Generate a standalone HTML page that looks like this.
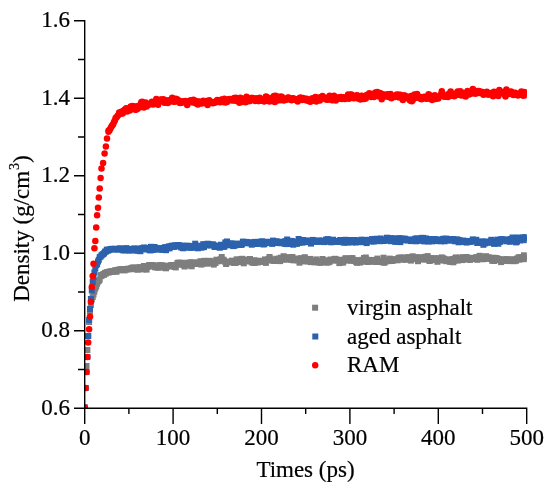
<!DOCTYPE html>
<html><head><meta charset="utf-8"><style>
html,body{margin:0;padding:0;background:#fff;width:550px;height:491px;overflow:hidden}
svg{display:block}
</style></head><body>
<svg width="550" height="491" viewBox="0 0 550 491">
<rect width="550" height="491" fill="#fff"/>
<defs><clipPath id="pa"><rect x="84.7" y="20.8" width="442.00000000000006" height="387.5"/></clipPath></defs>
<g clip-path="url(#pa)">
<g fill="#7e7e7e"><rect x="81.7" y="404.5" width="6.0" height="6.0"/><rect x="82.6" y="385.0" width="6.0" height="6.0"/><rect x="83.5" y="363.0" width="6.0" height="6.0"/><rect x="84.4" y="347.0" width="6.0" height="6.0"/><rect x="85.2" y="333.0" width="6.0" height="6.0"/><rect x="86.1" y="319.0" width="6.0" height="6.0"/><rect x="87.0" y="308.0" width="6.0" height="6.0"/><rect x="87.9" y="302.0" width="6.0" height="6.0"/><rect x="88.8" y="296.5" width="6.0" height="6.0"/><rect x="89.7" y="294.0" width="6.0" height="6.0"/><rect x="90.5" y="291.5" width="6.0" height="6.0"/><rect x="91.4" y="288.5" width="6.0" height="6.0"/><rect x="92.3" y="285.5" width="6.0" height="6.0"/><rect x="93.2" y="283.4" width="6.0" height="6.0"/><rect x="94.1" y="280.8" width="6.0" height="6.0"/><rect x="95.0" y="278.5" width="6.0" height="6.0"/><rect x="95.8" y="277.9" width="6.0" height="6.0"/><rect x="96.7" y="276.6" width="6.0" height="6.0"/><rect x="97.6" y="272.1" width="6.0" height="6.0"/><rect x="98.5" y="273.1" width="6.0" height="6.0"/><rect x="99.4" y="272.0" width="6.0" height="6.0"/><rect x="100.3" y="271.0" width="6.0" height="6.0"/><rect x="101.1" y="271.8" width="6.0" height="6.0"/><rect x="102.0" y="269.9" width="6.0" height="6.0"/><rect x="102.9" y="270.6" width="6.0" height="6.0"/><rect x="103.8" y="269.2" width="6.0" height="6.0"/><rect x="104.7" y="269.0" width="6.0" height="6.0"/><rect x="105.6" y="269.6" width="6.0" height="6.0"/><rect x="106.5" y="268.7" width="6.0" height="6.0"/><rect x="107.3" y="268.6" width="6.0" height="6.0"/><rect x="108.2" y="268.4" width="6.0" height="6.0"/><rect x="109.1" y="268.3" width="6.0" height="6.0"/><rect x="110.0" y="268.7" width="6.0" height="6.0"/><rect x="110.9" y="268.3" width="6.0" height="6.0"/><rect x="111.8" y="267.5" width="6.0" height="6.0"/><rect x="112.6" y="267.3" width="6.0" height="6.0"/><rect x="113.5" y="268.8" width="6.0" height="6.0"/><rect x="114.4" y="267.1" width="6.0" height="6.0"/><rect x="115.3" y="266.7" width="6.0" height="6.0"/><rect x="116.2" y="267.3" width="6.0" height="6.0"/><rect x="117.1" y="266.4" width="6.0" height="6.0"/><rect x="117.9" y="266.4" width="6.0" height="6.0"/><rect x="118.8" y="266.9" width="6.0" height="6.0"/><rect x="119.7" y="266.7" width="6.0" height="6.0"/><rect x="120.6" y="266.1" width="6.0" height="6.0"/><rect x="121.5" y="267.4" width="6.0" height="6.0"/><rect x="122.4" y="266.3" width="6.0" height="6.0"/><rect x="123.2" y="266.4" width="6.0" height="6.0"/><rect x="124.1" y="266.2" width="6.0" height="6.0"/><rect x="125.0" y="265.7" width="6.0" height="6.0"/><rect x="125.9" y="266.4" width="6.0" height="6.0"/><rect x="126.8" y="266.0" width="6.0" height="6.0"/><rect x="127.7" y="265.3" width="6.0" height="6.0"/><rect x="128.6" y="265.7" width="6.0" height="6.0"/><rect x="129.4" y="264.7" width="6.0" height="6.0"/><rect x="130.3" y="264.6" width="6.0" height="6.0"/><rect x="131.2" y="264.8" width="6.0" height="6.0"/><rect x="132.1" y="266.2" width="6.0" height="6.0"/><rect x="133.0" y="264.8" width="6.0" height="6.0"/><rect x="133.9" y="266.2" width="6.0" height="6.0"/><rect x="134.7" y="266.7" width="6.0" height="6.0"/><rect x="135.6" y="264.7" width="6.0" height="6.0"/><rect x="136.5" y="264.2" width="6.0" height="6.0"/><rect x="137.4" y="264.4" width="6.0" height="6.0"/><rect x="138.3" y="265.3" width="6.0" height="6.0"/><rect x="139.2" y="265.8" width="6.0" height="6.0"/><rect x="140.0" y="266.4" width="6.0" height="6.0"/><rect x="140.9" y="263.0" width="6.0" height="6.0"/><rect x="141.8" y="265.1" width="6.0" height="6.0"/><rect x="142.7" y="264.9" width="6.0" height="6.0"/><rect x="143.6" y="266.6" width="6.0" height="6.0"/><rect x="144.5" y="263.7" width="6.0" height="6.0"/><rect x="145.3" y="263.6" width="6.0" height="6.0"/><rect x="146.2" y="262.0" width="6.0" height="6.0"/><rect x="147.1" y="262.6" width="6.0" height="6.0"/><rect x="148.0" y="262.4" width="6.0" height="6.0"/><rect x="148.9" y="262.5" width="6.0" height="6.0"/><rect x="149.8" y="262.6" width="6.0" height="6.0"/><rect x="150.7" y="262.2" width="6.0" height="6.0"/><rect x="151.5" y="263.8" width="6.0" height="6.0"/><rect x="152.4" y="264.4" width="6.0" height="6.0"/><rect x="153.3" y="264.2" width="6.0" height="6.0"/><rect x="154.2" y="263.6" width="6.0" height="6.0"/><rect x="155.1" y="264.6" width="6.0" height="6.0"/><rect x="156.0" y="264.5" width="6.0" height="6.0"/><rect x="156.8" y="262.1" width="6.0" height="6.0"/><rect x="157.7" y="263.9" width="6.0" height="6.0"/><rect x="158.6" y="262.5" width="6.0" height="6.0"/><rect x="159.5" y="262.3" width="6.0" height="6.0"/><rect x="160.4" y="263.7" width="6.0" height="6.0"/><rect x="161.3" y="263.2" width="6.0" height="6.0"/><rect x="162.1" y="265.0" width="6.0" height="6.0"/><rect x="163.0" y="265.3" width="6.0" height="6.0"/><rect x="163.9" y="263.7" width="6.0" height="6.0"/><rect x="164.8" y="263.4" width="6.0" height="6.0"/><rect x="165.7" y="262.8" width="6.0" height="6.0"/><rect x="166.6" y="262.7" width="6.0" height="6.0"/><rect x="167.4" y="263.2" width="6.0" height="6.0"/><rect x="168.3" y="262.0" width="6.0" height="6.0"/><rect x="169.2" y="262.9" width="6.0" height="6.0"/><rect x="170.1" y="262.1" width="6.0" height="6.0"/><rect x="171.0" y="263.6" width="6.0" height="6.0"/><rect x="171.9" y="263.8" width="6.0" height="6.0"/><rect x="172.8" y="264.4" width="6.0" height="6.0"/><rect x="173.6" y="261.7" width="6.0" height="6.0"/><rect x="174.5" y="260.0" width="6.0" height="6.0"/><rect x="175.4" y="259.6" width="6.0" height="6.0"/><rect x="176.3" y="261.5" width="6.0" height="6.0"/><rect x="177.2" y="260.1" width="6.0" height="6.0"/><rect x="178.1" y="259.7" width="6.0" height="6.0"/><rect x="178.9" y="261.3" width="6.0" height="6.0"/><rect x="179.8" y="260.4" width="6.0" height="6.0"/><rect x="180.7" y="262.2" width="6.0" height="6.0"/><rect x="181.6" y="263.5" width="6.0" height="6.0"/><rect x="182.5" y="261.2" width="6.0" height="6.0"/><rect x="183.4" y="262.5" width="6.0" height="6.0"/><rect x="184.2" y="259.7" width="6.0" height="6.0"/><rect x="185.1" y="261.7" width="6.0" height="6.0"/><rect x="186.0" y="260.5" width="6.0" height="6.0"/><rect x="186.9" y="259.9" width="6.0" height="6.0"/><rect x="187.8" y="259.3" width="6.0" height="6.0"/><rect x="188.7" y="263.3" width="6.0" height="6.0"/><rect x="189.5" y="259.6" width="6.0" height="6.0"/><rect x="190.4" y="259.7" width="6.0" height="6.0"/><rect x="191.3" y="260.7" width="6.0" height="6.0"/><rect x="192.2" y="261.0" width="6.0" height="6.0"/><rect x="193.1" y="260.8" width="6.0" height="6.0"/><rect x="194.0" y="260.3" width="6.0" height="6.0"/><rect x="194.9" y="259.3" width="6.0" height="6.0"/><rect x="195.7" y="260.7" width="6.0" height="6.0"/><rect x="196.6" y="259.9" width="6.0" height="6.0"/><rect x="197.5" y="258.2" width="6.0" height="6.0"/><rect x="198.4" y="261.6" width="6.0" height="6.0"/><rect x="199.3" y="259.5" width="6.0" height="6.0"/><rect x="200.2" y="260.6" width="6.0" height="6.0"/><rect x="201.0" y="257.9" width="6.0" height="6.0"/><rect x="201.9" y="257.9" width="6.0" height="6.0"/><rect x="202.8" y="258.9" width="6.0" height="6.0"/><rect x="203.7" y="258.8" width="6.0" height="6.0"/><rect x="204.6" y="260.7" width="6.0" height="6.0"/><rect x="205.5" y="257.9" width="6.0" height="6.0"/><rect x="206.3" y="259.7" width="6.0" height="6.0"/><rect x="207.2" y="257.9" width="6.0" height="6.0"/><rect x="208.1" y="259.9" width="6.0" height="6.0"/><rect x="209.0" y="259.4" width="6.0" height="6.0"/><rect x="209.9" y="258.6" width="6.0" height="6.0"/><rect x="210.8" y="261.6" width="6.0" height="6.0"/><rect x="211.6" y="259.1" width="6.0" height="6.0"/><rect x="212.5" y="260.0" width="6.0" height="6.0"/><rect x="213.4" y="256.7" width="6.0" height="6.0"/><rect x="214.3" y="257.7" width="6.0" height="6.0"/><rect x="215.2" y="258.3" width="6.0" height="6.0"/><rect x="216.1" y="257.8" width="6.0" height="6.0"/><rect x="217.0" y="256.9" width="6.0" height="6.0"/><rect x="217.8" y="256.2" width="6.0" height="6.0"/><rect x="218.7" y="254.0" width="6.0" height="6.0"/><rect x="219.6" y="257.2" width="6.0" height="6.0"/><rect x="220.5" y="256.7" width="6.0" height="6.0"/><rect x="221.4" y="257.8" width="6.0" height="6.0"/><rect x="222.3" y="259.1" width="6.0" height="6.0"/><rect x="223.1" y="261.0" width="6.0" height="6.0"/><rect x="224.0" y="259.2" width="6.0" height="6.0"/><rect x="224.9" y="259.4" width="6.0" height="6.0"/><rect x="225.8" y="259.0" width="6.0" height="6.0"/><rect x="226.7" y="259.0" width="6.0" height="6.0"/><rect x="227.6" y="258.9" width="6.0" height="6.0"/><rect x="228.4" y="257.9" width="6.0" height="6.0"/><rect x="229.3" y="257.7" width="6.0" height="6.0"/><rect x="230.2" y="258.5" width="6.0" height="6.0"/><rect x="231.1" y="260.0" width="6.0" height="6.0"/><rect x="232.0" y="258.9" width="6.0" height="6.0"/><rect x="232.9" y="259.8" width="6.0" height="6.0"/><rect x="233.7" y="256.3" width="6.0" height="6.0"/><rect x="234.6" y="258.4" width="6.0" height="6.0"/><rect x="235.5" y="258.7" width="6.0" height="6.0"/><rect x="236.4" y="259.1" width="6.0" height="6.0"/><rect x="237.3" y="256.9" width="6.0" height="6.0"/><rect x="238.2" y="256.1" width="6.0" height="6.0"/><rect x="239.1" y="255.8" width="6.0" height="6.0"/><rect x="239.9" y="257.7" width="6.0" height="6.0"/><rect x="240.8" y="260.3" width="6.0" height="6.0"/><rect x="241.7" y="257.7" width="6.0" height="6.0"/><rect x="242.6" y="256.6" width="6.0" height="6.0"/><rect x="243.5" y="258.4" width="6.0" height="6.0"/><rect x="244.4" y="256.9" width="6.0" height="6.0"/><rect x="245.2" y="257.6" width="6.0" height="6.0"/><rect x="246.1" y="257.1" width="6.0" height="6.0"/><rect x="247.0" y="256.0" width="6.0" height="6.0"/><rect x="247.9" y="257.7" width="6.0" height="6.0"/><rect x="248.8" y="259.4" width="6.0" height="6.0"/><rect x="249.7" y="259.0" width="6.0" height="6.0"/><rect x="250.5" y="259.9" width="6.0" height="6.0"/><rect x="251.4" y="257.2" width="6.0" height="6.0"/><rect x="252.3" y="259.7" width="6.0" height="6.0"/><rect x="253.2" y="258.5" width="6.0" height="6.0"/><rect x="254.1" y="258.2" width="6.0" height="6.0"/><rect x="255.0" y="259.4" width="6.0" height="6.0"/><rect x="255.8" y="257.7" width="6.0" height="6.0"/><rect x="256.7" y="258.1" width="6.0" height="6.0"/><rect x="257.6" y="258.1" width="6.0" height="6.0"/><rect x="258.5" y="258.2" width="6.0" height="6.0"/><rect x="259.4" y="258.3" width="6.0" height="6.0"/><rect x="260.3" y="258.9" width="6.0" height="6.0"/><rect x="261.2" y="258.0" width="6.0" height="6.0"/><rect x="262.0" y="256.4" width="6.0" height="6.0"/><rect x="262.9" y="259.9" width="6.0" height="6.0"/><rect x="263.8" y="257.2" width="6.0" height="6.0"/><rect x="264.7" y="257.2" width="6.0" height="6.0"/><rect x="265.6" y="255.9" width="6.0" height="6.0"/><rect x="266.5" y="254.0" width="6.0" height="6.0"/><rect x="267.3" y="255.5" width="6.0" height="6.0"/><rect x="268.2" y="256.8" width="6.0" height="6.0"/><rect x="269.1" y="257.4" width="6.0" height="6.0"/><rect x="270.0" y="257.3" width="6.0" height="6.0"/><rect x="270.9" y="258.0" width="6.0" height="6.0"/><rect x="271.8" y="257.7" width="6.0" height="6.0"/><rect x="272.6" y="257.7" width="6.0" height="6.0"/><rect x="273.5" y="255.8" width="6.0" height="6.0"/><rect x="274.4" y="256.5" width="6.0" height="6.0"/><rect x="275.3" y="256.2" width="6.0" height="6.0"/><rect x="276.2" y="255.5" width="6.0" height="6.0"/><rect x="277.1" y="258.1" width="6.0" height="6.0"/><rect x="277.9" y="254.7" width="6.0" height="6.0"/><rect x="278.8" y="256.0" width="6.0" height="6.0"/><rect x="279.7" y="256.1" width="6.0" height="6.0"/><rect x="280.6" y="253.2" width="6.0" height="6.0"/><rect x="281.5" y="256.7" width="6.0" height="6.0"/><rect x="282.4" y="255.1" width="6.0" height="6.0"/><rect x="283.3" y="256.3" width="6.0" height="6.0"/><rect x="284.1" y="255.3" width="6.0" height="6.0"/><rect x="285.0" y="254.1" width="6.0" height="6.0"/><rect x="285.9" y="255.9" width="6.0" height="6.0"/><rect x="286.8" y="255.5" width="6.0" height="6.0"/><rect x="287.7" y="256.8" width="6.0" height="6.0"/><rect x="288.6" y="256.4" width="6.0" height="6.0"/><rect x="289.4" y="254.0" width="6.0" height="6.0"/><rect x="290.3" y="257.3" width="6.0" height="6.0"/><rect x="291.2" y="256.9" width="6.0" height="6.0"/><rect x="292.1" y="257.1" width="6.0" height="6.0"/><rect x="293.0" y="256.8" width="6.0" height="6.0"/><rect x="293.9" y="255.5" width="6.0" height="6.0"/><rect x="294.7" y="257.4" width="6.0" height="6.0"/><rect x="295.6" y="256.0" width="6.0" height="6.0"/><rect x="296.5" y="259.7" width="6.0" height="6.0"/><rect x="297.4" y="256.1" width="6.0" height="6.0"/><rect x="298.3" y="255.1" width="6.0" height="6.0"/><rect x="299.2" y="255.9" width="6.0" height="6.0"/><rect x="300.0" y="258.1" width="6.0" height="6.0"/><rect x="300.9" y="256.1" width="6.0" height="6.0"/><rect x="301.8" y="254.2" width="6.0" height="6.0"/><rect x="302.7" y="258.4" width="6.0" height="6.0"/><rect x="303.6" y="257.5" width="6.0" height="6.0"/><rect x="304.5" y="257.0" width="6.0" height="6.0"/><rect x="305.4" y="258.4" width="6.0" height="6.0"/><rect x="306.2" y="256.3" width="6.0" height="6.0"/><rect x="307.1" y="255.9" width="6.0" height="6.0"/><rect x="308.0" y="259.1" width="6.0" height="6.0"/><rect x="308.9" y="257.8" width="6.0" height="6.0"/><rect x="309.8" y="259.0" width="6.0" height="6.0"/><rect x="310.7" y="258.0" width="6.0" height="6.0"/><rect x="311.5" y="259.3" width="6.0" height="6.0"/><rect x="312.4" y="258.5" width="6.0" height="6.0"/><rect x="313.3" y="256.4" width="6.0" height="6.0"/><rect x="314.2" y="259.2" width="6.0" height="6.0"/><rect x="315.1" y="257.9" width="6.0" height="6.0"/><rect x="316.0" y="259.4" width="6.0" height="6.0"/><rect x="316.8" y="258.7" width="6.0" height="6.0"/><rect x="317.7" y="259.9" width="6.0" height="6.0"/><rect x="318.6" y="258.2" width="6.0" height="6.0"/><rect x="319.5" y="256.0" width="6.0" height="6.0"/><rect x="320.4" y="257.8" width="6.0" height="6.0"/><rect x="321.3" y="259.0" width="6.0" height="6.0"/><rect x="322.1" y="258.1" width="6.0" height="6.0"/><rect x="323.0" y="257.4" width="6.0" height="6.0"/><rect x="323.9" y="259.7" width="6.0" height="6.0"/><rect x="324.8" y="257.8" width="6.0" height="6.0"/><rect x="325.7" y="259.3" width="6.0" height="6.0"/><rect x="326.6" y="258.7" width="6.0" height="6.0"/><rect x="327.5" y="256.5" width="6.0" height="6.0"/><rect x="328.3" y="257.0" width="6.0" height="6.0"/><rect x="329.2" y="257.2" width="6.0" height="6.0"/><rect x="330.1" y="257.6" width="6.0" height="6.0"/><rect x="331.0" y="256.4" width="6.0" height="6.0"/><rect x="331.9" y="255.8" width="6.0" height="6.0"/><rect x="332.8" y="256.3" width="6.0" height="6.0"/><rect x="333.6" y="257.1" width="6.0" height="6.0"/><rect x="334.5" y="256.9" width="6.0" height="6.0"/><rect x="335.4" y="257.5" width="6.0" height="6.0"/><rect x="336.3" y="260.1" width="6.0" height="6.0"/><rect x="337.2" y="258.4" width="6.0" height="6.0"/><rect x="338.1" y="256.8" width="6.0" height="6.0"/><rect x="338.9" y="257.8" width="6.0" height="6.0"/><rect x="339.8" y="259.7" width="6.0" height="6.0"/><rect x="340.7" y="258.4" width="6.0" height="6.0"/><rect x="341.6" y="256.6" width="6.0" height="6.0"/><rect x="342.5" y="255.2" width="6.0" height="6.0"/><rect x="343.4" y="255.8" width="6.0" height="6.0"/><rect x="344.2" y="257.2" width="6.0" height="6.0"/><rect x="345.1" y="257.3" width="6.0" height="6.0"/><rect x="346.0" y="255.6" width="6.0" height="6.0"/><rect x="346.9" y="256.3" width="6.0" height="6.0"/><rect x="347.8" y="257.8" width="6.0" height="6.0"/><rect x="348.7" y="255.1" width="6.0" height="6.0"/><rect x="349.6" y="255.3" width="6.0" height="6.0"/><rect x="350.4" y="257.2" width="6.0" height="6.0"/><rect x="351.3" y="257.7" width="6.0" height="6.0"/><rect x="352.2" y="257.6" width="6.0" height="6.0"/><rect x="353.1" y="258.9" width="6.0" height="6.0"/><rect x="354.0" y="259.8" width="6.0" height="6.0"/><rect x="354.9" y="258.7" width="6.0" height="6.0"/><rect x="355.7" y="257.1" width="6.0" height="6.0"/><rect x="356.6" y="259.5" width="6.0" height="6.0"/><rect x="357.5" y="259.2" width="6.0" height="6.0"/><rect x="358.4" y="258.6" width="6.0" height="6.0"/><rect x="359.3" y="256.8" width="6.0" height="6.0"/><rect x="360.2" y="258.3" width="6.0" height="6.0"/><rect x="361.0" y="255.0" width="6.0" height="6.0"/><rect x="361.9" y="256.5" width="6.0" height="6.0"/><rect x="362.8" y="254.5" width="6.0" height="6.0"/><rect x="363.7" y="256.7" width="6.0" height="6.0"/><rect x="364.6" y="259.0" width="6.0" height="6.0"/><rect x="365.5" y="257.2" width="6.0" height="6.0"/><rect x="366.3" y="258.8" width="6.0" height="6.0"/><rect x="367.2" y="256.9" width="6.0" height="6.0"/><rect x="368.1" y="257.2" width="6.0" height="6.0"/><rect x="369.0" y="257.1" width="6.0" height="6.0"/><rect x="369.9" y="257.9" width="6.0" height="6.0"/><rect x="370.8" y="257.5" width="6.0" height="6.0"/><rect x="371.7" y="258.6" width="6.0" height="6.0"/><rect x="372.5" y="259.0" width="6.0" height="6.0"/><rect x="373.4" y="257.3" width="6.0" height="6.0"/><rect x="374.3" y="255.6" width="6.0" height="6.0"/><rect x="375.2" y="257.6" width="6.0" height="6.0"/><rect x="376.1" y="258.8" width="6.0" height="6.0"/><rect x="377.0" y="259.0" width="6.0" height="6.0"/><rect x="377.8" y="258.0" width="6.0" height="6.0"/><rect x="378.7" y="258.7" width="6.0" height="6.0"/><rect x="379.6" y="259.3" width="6.0" height="6.0"/><rect x="380.5" y="254.7" width="6.0" height="6.0"/><rect x="381.4" y="259.8" width="6.0" height="6.0"/><rect x="382.3" y="258.5" width="6.0" height="6.0"/><rect x="383.1" y="258.2" width="6.0" height="6.0"/><rect x="384.0" y="256.7" width="6.0" height="6.0"/><rect x="384.9" y="257.7" width="6.0" height="6.0"/><rect x="385.8" y="258.1" width="6.0" height="6.0"/><rect x="386.7" y="255.6" width="6.0" height="6.0"/><rect x="387.6" y="257.9" width="6.0" height="6.0"/><rect x="388.4" y="256.5" width="6.0" height="6.0"/><rect x="389.3" y="257.9" width="6.0" height="6.0"/><rect x="390.2" y="257.3" width="6.0" height="6.0"/><rect x="391.1" y="256.3" width="6.0" height="6.0"/><rect x="392.0" y="256.7" width="6.0" height="6.0"/><rect x="392.9" y="257.0" width="6.0" height="6.0"/><rect x="393.8" y="256.6" width="6.0" height="6.0"/><rect x="394.6" y="257.3" width="6.0" height="6.0"/><rect x="395.5" y="255.1" width="6.0" height="6.0"/><rect x="396.4" y="254.6" width="6.0" height="6.0"/><rect x="397.3" y="256.0" width="6.0" height="6.0"/><rect x="398.2" y="254.6" width="6.0" height="6.0"/><rect x="399.1" y="255.5" width="6.0" height="6.0"/><rect x="399.9" y="256.7" width="6.0" height="6.0"/><rect x="400.8" y="254.6" width="6.0" height="6.0"/><rect x="401.7" y="254.8" width="6.0" height="6.0"/><rect x="402.6" y="256.8" width="6.0" height="6.0"/><rect x="403.5" y="255.2" width="6.0" height="6.0"/><rect x="404.4" y="255.7" width="6.0" height="6.0"/><rect x="405.2" y="254.2" width="6.0" height="6.0"/><rect x="406.1" y="254.2" width="6.0" height="6.0"/><rect x="407.0" y="255.5" width="6.0" height="6.0"/><rect x="407.9" y="257.6" width="6.0" height="6.0"/><rect x="408.8" y="255.9" width="6.0" height="6.0"/><rect x="409.7" y="253.3" width="6.0" height="6.0"/><rect x="410.5" y="256.0" width="6.0" height="6.0"/><rect x="411.4" y="256.0" width="6.0" height="6.0"/><rect x="412.3" y="256.1" width="6.0" height="6.0"/><rect x="413.2" y="254.2" width="6.0" height="6.0"/><rect x="414.1" y="255.9" width="6.0" height="6.0"/><rect x="415.0" y="258.2" width="6.0" height="6.0"/><rect x="415.9" y="254.4" width="6.0" height="6.0"/><rect x="416.7" y="256.0" width="6.0" height="6.0"/><rect x="417.6" y="254.8" width="6.0" height="6.0"/><rect x="418.5" y="254.5" width="6.0" height="6.0"/><rect x="419.4" y="255.2" width="6.0" height="6.0"/><rect x="420.3" y="256.6" width="6.0" height="6.0"/><rect x="421.2" y="256.2" width="6.0" height="6.0"/><rect x="422.0" y="253.8" width="6.0" height="6.0"/><rect x="422.9" y="254.4" width="6.0" height="6.0"/><rect x="423.8" y="254.4" width="6.0" height="6.0"/><rect x="424.7" y="253.1" width="6.0" height="6.0"/><rect x="425.6" y="256.6" width="6.0" height="6.0"/><rect x="426.5" y="258.0" width="6.0" height="6.0"/><rect x="427.3" y="257.6" width="6.0" height="6.0"/><rect x="428.2" y="255.0" width="6.0" height="6.0"/><rect x="429.1" y="257.0" width="6.0" height="6.0"/><rect x="430.0" y="256.9" width="6.0" height="6.0"/><rect x="430.9" y="255.2" width="6.0" height="6.0"/><rect x="431.8" y="255.9" width="6.0" height="6.0"/><rect x="432.6" y="255.8" width="6.0" height="6.0"/><rect x="433.5" y="256.9" width="6.0" height="6.0"/><rect x="434.4" y="258.8" width="6.0" height="6.0"/><rect x="435.3" y="255.5" width="6.0" height="6.0"/><rect x="436.2" y="255.3" width="6.0" height="6.0"/><rect x="437.1" y="257.5" width="6.0" height="6.0"/><rect x="438.0" y="256.7" width="6.0" height="6.0"/><rect x="438.8" y="254.4" width="6.0" height="6.0"/><rect x="439.7" y="255.8" width="6.0" height="6.0"/><rect x="440.6" y="255.4" width="6.0" height="6.0"/><rect x="441.5" y="256.1" width="6.0" height="6.0"/><rect x="442.4" y="257.5" width="6.0" height="6.0"/><rect x="443.3" y="258.2" width="6.0" height="6.0"/><rect x="444.1" y="256.9" width="6.0" height="6.0"/><rect x="445.0" y="257.2" width="6.0" height="6.0"/><rect x="445.9" y="256.4" width="6.0" height="6.0"/><rect x="446.8" y="258.7" width="6.0" height="6.0"/><rect x="447.7" y="258.8" width="6.0" height="6.0"/><rect x="448.6" y="257.2" width="6.0" height="6.0"/><rect x="449.4" y="256.1" width="6.0" height="6.0"/><rect x="450.3" y="259.3" width="6.0" height="6.0"/><rect x="451.2" y="257.9" width="6.0" height="6.0"/><rect x="452.1" y="255.3" width="6.0" height="6.0"/><rect x="453.0" y="254.4" width="6.0" height="6.0"/><rect x="453.9" y="255.7" width="6.0" height="6.0"/><rect x="454.7" y="257.6" width="6.0" height="6.0"/><rect x="455.6" y="255.3" width="6.0" height="6.0"/><rect x="456.5" y="255.1" width="6.0" height="6.0"/><rect x="457.4" y="254.6" width="6.0" height="6.0"/><rect x="458.3" y="256.1" width="6.0" height="6.0"/><rect x="459.2" y="257.1" width="6.0" height="6.0"/><rect x="460.1" y="254.2" width="6.0" height="6.0"/><rect x="460.9" y="255.0" width="6.0" height="6.0"/><rect x="461.8" y="255.4" width="6.0" height="6.0"/><rect x="462.7" y="254.7" width="6.0" height="6.0"/><rect x="463.6" y="254.0" width="6.0" height="6.0"/><rect x="464.5" y="256.6" width="6.0" height="6.0"/><rect x="465.4" y="255.7" width="6.0" height="6.0"/><rect x="466.2" y="255.7" width="6.0" height="6.0"/><rect x="467.1" y="256.9" width="6.0" height="6.0"/><rect x="468.0" y="254.8" width="6.0" height="6.0"/><rect x="468.9" y="255.7" width="6.0" height="6.0"/><rect x="469.8" y="255.0" width="6.0" height="6.0"/><rect x="470.7" y="255.1" width="6.0" height="6.0"/><rect x="471.5" y="255.7" width="6.0" height="6.0"/><rect x="472.4" y="255.1" width="6.0" height="6.0"/><rect x="473.3" y="254.1" width="6.0" height="6.0"/><rect x="474.2" y="256.8" width="6.0" height="6.0"/><rect x="475.1" y="255.2" width="6.0" height="6.0"/><rect x="476.0" y="253.8" width="6.0" height="6.0"/><rect x="476.8" y="252.8" width="6.0" height="6.0"/><rect x="477.7" y="255.0" width="6.0" height="6.0"/><rect x="478.6" y="255.5" width="6.0" height="6.0"/><rect x="479.5" y="256.2" width="6.0" height="6.0"/><rect x="480.4" y="256.1" width="6.0" height="6.0"/><rect x="481.3" y="254.4" width="6.0" height="6.0"/><rect x="482.2" y="255.5" width="6.0" height="6.0"/><rect x="483.0" y="253.2" width="6.0" height="6.0"/><rect x="483.9" y="254.8" width="6.0" height="6.0"/><rect x="484.8" y="255.8" width="6.0" height="6.0"/><rect x="485.7" y="254.2" width="6.0" height="6.0"/><rect x="486.6" y="255.0" width="6.0" height="6.0"/><rect x="487.5" y="255.7" width="6.0" height="6.0"/><rect x="488.3" y="256.0" width="6.0" height="6.0"/><rect x="489.2" y="257.8" width="6.0" height="6.0"/><rect x="490.1" y="254.8" width="6.0" height="6.0"/><rect x="491.0" y="258.0" width="6.0" height="6.0"/><rect x="491.9" y="254.9" width="6.0" height="6.0"/><rect x="492.8" y="255.6" width="6.0" height="6.0"/><rect x="493.6" y="255.1" width="6.0" height="6.0"/><rect x="494.5" y="255.9" width="6.0" height="6.0"/><rect x="495.4" y="255.9" width="6.0" height="6.0"/><rect x="496.3" y="257.2" width="6.0" height="6.0"/><rect x="497.2" y="256.3" width="6.0" height="6.0"/><rect x="498.1" y="259.1" width="6.0" height="6.0"/><rect x="498.9" y="257.2" width="6.0" height="6.0"/><rect x="499.8" y="256.4" width="6.0" height="6.0"/><rect x="500.7" y="257.5" width="6.0" height="6.0"/><rect x="501.6" y="257.9" width="6.0" height="6.0"/><rect x="502.5" y="257.1" width="6.0" height="6.0"/><rect x="503.4" y="256.2" width="6.0" height="6.0"/><rect x="504.3" y="256.3" width="6.0" height="6.0"/><rect x="505.1" y="257.6" width="6.0" height="6.0"/><rect x="506.0" y="258.1" width="6.0" height="6.0"/><rect x="506.9" y="257.5" width="6.0" height="6.0"/><rect x="507.8" y="257.1" width="6.0" height="6.0"/><rect x="508.7" y="257.8" width="6.0" height="6.0"/><rect x="509.6" y="256.2" width="6.0" height="6.0"/><rect x="510.4" y="256.9" width="6.0" height="6.0"/><rect x="511.3" y="258.2" width="6.0" height="6.0"/><rect x="512.2" y="257.3" width="6.0" height="6.0"/><rect x="513.1" y="257.7" width="6.0" height="6.0"/><rect x="514.0" y="255.6" width="6.0" height="6.0"/><rect x="514.9" y="255.8" width="6.0" height="6.0"/><rect x="515.7" y="254.2" width="6.0" height="6.0"/><rect x="516.6" y="256.7" width="6.0" height="6.0"/><rect x="517.5" y="254.7" width="6.0" height="6.0"/><rect x="518.4" y="254.3" width="6.0" height="6.0"/><rect x="519.3" y="254.9" width="6.0" height="6.0"/><rect x="520.2" y="255.9" width="6.0" height="6.0"/><rect x="521.0" y="252.3" width="6.0" height="6.0"/><rect x="521.9" y="253.4" width="6.0" height="6.0"/><rect x="522.8" y="256.2" width="6.0" height="6.0"/><rect x="523.7" y="255.5" width="6.0" height="6.0"/></g>
<g fill="#2c62ad"><rect x="81.7" y="404.5" width="6.0" height="6.0"/><rect x="82.6" y="385.0" width="6.0" height="6.0"/><rect x="83.5" y="369.0" width="6.0" height="6.0"/><rect x="84.4" y="354.0" width="6.0" height="6.0"/><rect x="85.2" y="333.0" width="6.0" height="6.0"/><rect x="86.1" y="317.0" width="6.0" height="6.0"/><rect x="87.0" y="306.0" width="6.0" height="6.0"/><rect x="87.9" y="296.0" width="6.0" height="6.0"/><rect x="88.8" y="287.5" width="6.0" height="6.0"/><rect x="89.7" y="279.0" width="6.0" height="6.0"/><rect x="90.5" y="274.0" width="6.0" height="6.0"/><rect x="91.4" y="269.5" width="6.0" height="6.0"/><rect x="92.3" y="265.5" width="6.0" height="6.0"/><rect x="93.2" y="262.1" width="6.0" height="6.0"/><rect x="94.1" y="261.2" width="6.0" height="6.0"/><rect x="95.0" y="258.5" width="6.0" height="6.0"/><rect x="95.8" y="256.8" width="6.0" height="6.0"/><rect x="96.7" y="254.1" width="6.0" height="6.0"/><rect x="97.6" y="253.6" width="6.0" height="6.0"/><rect x="98.5" y="252.3" width="6.0" height="6.0"/><rect x="99.4" y="251.6" width="6.0" height="6.0"/><rect x="100.3" y="251.0" width="6.0" height="6.0"/><rect x="101.1" y="250.2" width="6.0" height="6.0"/><rect x="102.0" y="248.7" width="6.0" height="6.0"/><rect x="102.9" y="248.6" width="6.0" height="6.0"/><rect x="103.8" y="246.6" width="6.0" height="6.0"/><rect x="104.7" y="247.7" width="6.0" height="6.0"/><rect x="105.6" y="247.2" width="6.0" height="6.0"/><rect x="106.5" y="246.6" width="6.0" height="6.0"/><rect x="107.3" y="246.3" width="6.0" height="6.0"/><rect x="108.2" y="246.3" width="6.0" height="6.0"/><rect x="109.1" y="245.8" width="6.0" height="6.0"/><rect x="110.0" y="246.1" width="6.0" height="6.0"/><rect x="110.9" y="246.2" width="6.0" height="6.0"/><rect x="111.8" y="245.8" width="6.0" height="6.0"/><rect x="112.6" y="246.1" width="6.0" height="6.0"/><rect x="113.5" y="246.4" width="6.0" height="6.0"/><rect x="114.4" y="246.4" width="6.0" height="6.0"/><rect x="115.3" y="246.3" width="6.0" height="6.0"/><rect x="116.2" y="245.6" width="6.0" height="6.0"/><rect x="117.1" y="245.6" width="6.0" height="6.0"/><rect x="117.9" y="245.6" width="6.0" height="6.0"/><rect x="118.8" y="246.1" width="6.0" height="6.0"/><rect x="119.7" y="247.3" width="6.0" height="6.0"/><rect x="120.6" y="246.9" width="6.0" height="6.0"/><rect x="121.5" y="247.3" width="6.0" height="6.0"/><rect x="122.4" y="247.2" width="6.0" height="6.0"/><rect x="123.2" y="245.1" width="6.0" height="6.0"/><rect x="124.1" y="246.5" width="6.0" height="6.0"/><rect x="125.0" y="246.1" width="6.0" height="6.0"/><rect x="125.9" y="247.3" width="6.0" height="6.0"/><rect x="126.8" y="247.5" width="6.0" height="6.0"/><rect x="127.7" y="245.8" width="6.0" height="6.0"/><rect x="128.6" y="246.5" width="6.0" height="6.0"/><rect x="129.4" y="247.2" width="6.0" height="6.0"/><rect x="130.3" y="246.2" width="6.0" height="6.0"/><rect x="131.2" y="245.6" width="6.0" height="6.0"/><rect x="132.1" y="245.7" width="6.0" height="6.0"/><rect x="133.0" y="247.5" width="6.0" height="6.0"/><rect x="133.9" y="245.7" width="6.0" height="6.0"/><rect x="134.7" y="247.6" width="6.0" height="6.0"/><rect x="135.6" y="246.6" width="6.0" height="6.0"/><rect x="136.5" y="247.6" width="6.0" height="6.0"/><rect x="137.4" y="248.2" width="6.0" height="6.0"/><rect x="138.3" y="245.5" width="6.0" height="6.0"/><rect x="139.2" y="245.2" width="6.0" height="6.0"/><rect x="140.0" y="246.4" width="6.0" height="6.0"/><rect x="140.9" y="244.5" width="6.0" height="6.0"/><rect x="141.8" y="245.2" width="6.0" height="6.0"/><rect x="142.7" y="245.6" width="6.0" height="6.0"/><rect x="143.6" y="246.1" width="6.0" height="6.0"/><rect x="144.5" y="244.8" width="6.0" height="6.0"/><rect x="145.3" y="245.5" width="6.0" height="6.0"/><rect x="146.2" y="246.9" width="6.0" height="6.0"/><rect x="147.1" y="247.4" width="6.0" height="6.0"/><rect x="148.0" y="243.8" width="6.0" height="6.0"/><rect x="148.9" y="247.1" width="6.0" height="6.0"/><rect x="149.8" y="246.8" width="6.0" height="6.0"/><rect x="150.7" y="244.7" width="6.0" height="6.0"/><rect x="151.5" y="244.0" width="6.0" height="6.0"/><rect x="152.4" y="246.0" width="6.0" height="6.0"/><rect x="153.3" y="245.3" width="6.0" height="6.0"/><rect x="154.2" y="246.3" width="6.0" height="6.0"/><rect x="155.1" y="246.6" width="6.0" height="6.0"/><rect x="156.0" y="245.3" width="6.0" height="6.0"/><rect x="156.8" y="245.5" width="6.0" height="6.0"/><rect x="157.7" y="245.3" width="6.0" height="6.0"/><rect x="158.6" y="245.8" width="6.0" height="6.0"/><rect x="159.5" y="246.9" width="6.0" height="6.0"/><rect x="160.4" y="246.5" width="6.0" height="6.0"/><rect x="161.3" y="244.9" width="6.0" height="6.0"/><rect x="162.1" y="244.1" width="6.0" height="6.0"/><rect x="163.0" y="247.2" width="6.0" height="6.0"/><rect x="163.9" y="245.3" width="6.0" height="6.0"/><rect x="164.8" y="245.2" width="6.0" height="6.0"/><rect x="165.7" y="243.4" width="6.0" height="6.0"/><rect x="166.6" y="245.3" width="6.0" height="6.0"/><rect x="167.4" y="243.6" width="6.0" height="6.0"/><rect x="168.3" y="243.3" width="6.0" height="6.0"/><rect x="169.2" y="242.6" width="6.0" height="6.0"/><rect x="170.1" y="243.7" width="6.0" height="6.0"/><rect x="171.0" y="243.7" width="6.0" height="6.0"/><rect x="171.9" y="242.3" width="6.0" height="6.0"/><rect x="172.8" y="242.9" width="6.0" height="6.0"/><rect x="173.6" y="243.5" width="6.0" height="6.0"/><rect x="174.5" y="242.4" width="6.0" height="6.0"/><rect x="175.4" y="242.0" width="6.0" height="6.0"/><rect x="176.3" y="242.8" width="6.0" height="6.0"/><rect x="177.2" y="242.7" width="6.0" height="6.0"/><rect x="178.1" y="244.4" width="6.0" height="6.0"/><rect x="178.9" y="242.8" width="6.0" height="6.0"/><rect x="179.8" y="245.1" width="6.0" height="6.0"/><rect x="180.7" y="245.2" width="6.0" height="6.0"/><rect x="181.6" y="242.8" width="6.0" height="6.0"/><rect x="182.5" y="243.8" width="6.0" height="6.0"/><rect x="183.4" y="243.4" width="6.0" height="6.0"/><rect x="184.2" y="242.7" width="6.0" height="6.0"/><rect x="185.1" y="243.7" width="6.0" height="6.0"/><rect x="186.0" y="243.3" width="6.0" height="6.0"/><rect x="186.9" y="244.7" width="6.0" height="6.0"/><rect x="187.8" y="244.8" width="6.0" height="6.0"/><rect x="188.7" y="242.9" width="6.0" height="6.0"/><rect x="189.5" y="243.3" width="6.0" height="6.0"/><rect x="190.4" y="243.9" width="6.0" height="6.0"/><rect x="191.3" y="244.5" width="6.0" height="6.0"/><rect x="192.2" y="240.7" width="6.0" height="6.0"/><rect x="193.1" y="244.5" width="6.0" height="6.0"/><rect x="194.0" y="243.3" width="6.0" height="6.0"/><rect x="194.9" y="245.3" width="6.0" height="6.0"/><rect x="195.7" y="243.4" width="6.0" height="6.0"/><rect x="196.6" y="242.7" width="6.0" height="6.0"/><rect x="197.5" y="243.4" width="6.0" height="6.0"/><rect x="198.4" y="244.7" width="6.0" height="6.0"/><rect x="199.3" y="243.8" width="6.0" height="6.0"/><rect x="200.2" y="241.2" width="6.0" height="6.0"/><rect x="201.0" y="244.1" width="6.0" height="6.0"/><rect x="201.9" y="241.6" width="6.0" height="6.0"/><rect x="202.8" y="242.3" width="6.0" height="6.0"/><rect x="203.7" y="242.3" width="6.0" height="6.0"/><rect x="204.6" y="240.7" width="6.0" height="6.0"/><rect x="205.5" y="241.5" width="6.0" height="6.0"/><rect x="206.3" y="241.7" width="6.0" height="6.0"/><rect x="207.2" y="241.5" width="6.0" height="6.0"/><rect x="208.1" y="242.4" width="6.0" height="6.0"/><rect x="209.0" y="242.2" width="6.0" height="6.0"/><rect x="209.9" y="241.3" width="6.0" height="6.0"/><rect x="210.8" y="242.2" width="6.0" height="6.0"/><rect x="211.6" y="244.0" width="6.0" height="6.0"/><rect x="212.5" y="243.8" width="6.0" height="6.0"/><rect x="213.4" y="242.8" width="6.0" height="6.0"/><rect x="214.3" y="243.6" width="6.0" height="6.0"/><rect x="215.2" y="243.8" width="6.0" height="6.0"/><rect x="216.1" y="244.3" width="6.0" height="6.0"/><rect x="217.0" y="244.6" width="6.0" height="6.0"/><rect x="217.8" y="241.7" width="6.0" height="6.0"/><rect x="218.7" y="242.2" width="6.0" height="6.0"/><rect x="219.6" y="243.6" width="6.0" height="6.0"/><rect x="220.5" y="243.6" width="6.0" height="6.0"/><rect x="221.4" y="243.7" width="6.0" height="6.0"/><rect x="222.3" y="239.4" width="6.0" height="6.0"/><rect x="223.1" y="241.5" width="6.0" height="6.0"/><rect x="224.0" y="238.5" width="6.0" height="6.0"/><rect x="224.9" y="242.3" width="6.0" height="6.0"/><rect x="225.8" y="241.6" width="6.0" height="6.0"/><rect x="226.7" y="241.0" width="6.0" height="6.0"/><rect x="227.6" y="240.4" width="6.0" height="6.0"/><rect x="228.4" y="241.7" width="6.0" height="6.0"/><rect x="229.3" y="240.5" width="6.0" height="6.0"/><rect x="230.2" y="243.1" width="6.0" height="6.0"/><rect x="231.1" y="242.6" width="6.0" height="6.0"/><rect x="232.0" y="242.3" width="6.0" height="6.0"/><rect x="232.9" y="242.1" width="6.0" height="6.0"/><rect x="233.7" y="241.9" width="6.0" height="6.0"/><rect x="234.6" y="240.6" width="6.0" height="6.0"/><rect x="235.5" y="241.9" width="6.0" height="6.0"/><rect x="236.4" y="242.0" width="6.0" height="6.0"/><rect x="237.3" y="240.9" width="6.0" height="6.0"/><rect x="238.2" y="241.9" width="6.0" height="6.0"/><rect x="239.1" y="241.3" width="6.0" height="6.0"/><rect x="239.9" y="238.6" width="6.0" height="6.0"/><rect x="240.8" y="240.0" width="6.0" height="6.0"/><rect x="241.7" y="239.2" width="6.0" height="6.0"/><rect x="242.6" y="238.9" width="6.0" height="6.0"/><rect x="243.5" y="240.2" width="6.0" height="6.0"/><rect x="244.4" y="239.1" width="6.0" height="6.0"/><rect x="245.2" y="239.5" width="6.0" height="6.0"/><rect x="246.1" y="240.1" width="6.0" height="6.0"/><rect x="247.0" y="240.2" width="6.0" height="6.0"/><rect x="247.9" y="239.9" width="6.0" height="6.0"/><rect x="248.8" y="241.7" width="6.0" height="6.0"/><rect x="249.7" y="239.7" width="6.0" height="6.0"/><rect x="250.5" y="240.5" width="6.0" height="6.0"/><rect x="251.4" y="238.9" width="6.0" height="6.0"/><rect x="252.3" y="240.5" width="6.0" height="6.0"/><rect x="253.2" y="240.8" width="6.0" height="6.0"/><rect x="254.1" y="240.9" width="6.0" height="6.0"/><rect x="255.0" y="238.9" width="6.0" height="6.0"/><rect x="255.8" y="239.5" width="6.0" height="6.0"/><rect x="256.7" y="240.7" width="6.0" height="6.0"/><rect x="257.6" y="238.7" width="6.0" height="6.0"/><rect x="258.5" y="239.8" width="6.0" height="6.0"/><rect x="259.4" y="238.3" width="6.0" height="6.0"/><rect x="260.3" y="241.4" width="6.0" height="6.0"/><rect x="261.2" y="241.2" width="6.0" height="6.0"/><rect x="262.0" y="240.2" width="6.0" height="6.0"/><rect x="262.9" y="238.9" width="6.0" height="6.0"/><rect x="263.8" y="239.2" width="6.0" height="6.0"/><rect x="264.7" y="239.6" width="6.0" height="6.0"/><rect x="265.6" y="239.5" width="6.0" height="6.0"/><rect x="266.5" y="238.8" width="6.0" height="6.0"/><rect x="267.3" y="239.1" width="6.0" height="6.0"/><rect x="268.2" y="239.7" width="6.0" height="6.0"/><rect x="269.1" y="240.9" width="6.0" height="6.0"/><rect x="270.0" y="237.6" width="6.0" height="6.0"/><rect x="270.9" y="238.9" width="6.0" height="6.0"/><rect x="271.8" y="238.6" width="6.0" height="6.0"/><rect x="272.6" y="239.2" width="6.0" height="6.0"/><rect x="273.5" y="238.3" width="6.0" height="6.0"/><rect x="274.4" y="240.1" width="6.0" height="6.0"/><rect x="275.3" y="239.9" width="6.0" height="6.0"/><rect x="276.2" y="239.3" width="6.0" height="6.0"/><rect x="277.1" y="238.7" width="6.0" height="6.0"/><rect x="277.9" y="239.6" width="6.0" height="6.0"/><rect x="278.8" y="240.2" width="6.0" height="6.0"/><rect x="279.7" y="240.0" width="6.0" height="6.0"/><rect x="280.6" y="239.2" width="6.0" height="6.0"/><rect x="281.5" y="240.7" width="6.0" height="6.0"/><rect x="282.4" y="238.1" width="6.0" height="6.0"/><rect x="283.3" y="241.1" width="6.0" height="6.0"/><rect x="284.1" y="236.5" width="6.0" height="6.0"/><rect x="285.0" y="238.6" width="6.0" height="6.0"/><rect x="285.9" y="237.9" width="6.0" height="6.0"/><rect x="286.8" y="239.9" width="6.0" height="6.0"/><rect x="287.7" y="237.9" width="6.0" height="6.0"/><rect x="288.6" y="241.0" width="6.0" height="6.0"/><rect x="289.4" y="238.1" width="6.0" height="6.0"/><rect x="290.3" y="241.7" width="6.0" height="6.0"/><rect x="291.2" y="239.8" width="6.0" height="6.0"/><rect x="292.1" y="239.2" width="6.0" height="6.0"/><rect x="293.0" y="239.7" width="6.0" height="6.0"/><rect x="293.9" y="240.9" width="6.0" height="6.0"/><rect x="294.7" y="239.1" width="6.0" height="6.0"/><rect x="295.6" y="236.0" width="6.0" height="6.0"/><rect x="296.5" y="239.8" width="6.0" height="6.0"/><rect x="297.4" y="239.0" width="6.0" height="6.0"/><rect x="298.3" y="237.3" width="6.0" height="6.0"/><rect x="299.2" y="239.6" width="6.0" height="6.0"/><rect x="300.0" y="237.0" width="6.0" height="6.0"/><rect x="300.9" y="238.5" width="6.0" height="6.0"/><rect x="301.8" y="238.2" width="6.0" height="6.0"/><rect x="302.7" y="237.8" width="6.0" height="6.0"/><rect x="303.6" y="239.2" width="6.0" height="6.0"/><rect x="304.5" y="237.5" width="6.0" height="6.0"/><rect x="305.4" y="238.9" width="6.0" height="6.0"/><rect x="306.2" y="238.2" width="6.0" height="6.0"/><rect x="307.1" y="238.5" width="6.0" height="6.0"/><rect x="308.0" y="240.6" width="6.0" height="6.0"/><rect x="308.9" y="238.5" width="6.0" height="6.0"/><rect x="309.8" y="236.9" width="6.0" height="6.0"/><rect x="310.7" y="238.0" width="6.0" height="6.0"/><rect x="311.5" y="237.7" width="6.0" height="6.0"/><rect x="312.4" y="238.7" width="6.0" height="6.0"/><rect x="313.3" y="238.5" width="6.0" height="6.0"/><rect x="314.2" y="238.5" width="6.0" height="6.0"/><rect x="315.1" y="238.2" width="6.0" height="6.0"/><rect x="316.0" y="237.5" width="6.0" height="6.0"/><rect x="316.8" y="238.2" width="6.0" height="6.0"/><rect x="317.7" y="238.8" width="6.0" height="6.0"/><rect x="318.6" y="237.6" width="6.0" height="6.0"/><rect x="319.5" y="238.2" width="6.0" height="6.0"/><rect x="320.4" y="238.4" width="6.0" height="6.0"/><rect x="321.3" y="239.1" width="6.0" height="6.0"/><rect x="322.1" y="238.5" width="6.0" height="6.0"/><rect x="323.0" y="236.6" width="6.0" height="6.0"/><rect x="323.9" y="237.7" width="6.0" height="6.0"/><rect x="324.8" y="236.1" width="6.0" height="6.0"/><rect x="325.7" y="236.9" width="6.0" height="6.0"/><rect x="326.6" y="237.8" width="6.0" height="6.0"/><rect x="327.5" y="238.8" width="6.0" height="6.0"/><rect x="328.3" y="239.3" width="6.0" height="6.0"/><rect x="329.2" y="237.6" width="6.0" height="6.0"/><rect x="330.1" y="236.7" width="6.0" height="6.0"/><rect x="331.0" y="238.4" width="6.0" height="6.0"/><rect x="331.9" y="238.1" width="6.0" height="6.0"/><rect x="332.8" y="238.5" width="6.0" height="6.0"/><rect x="333.6" y="238.3" width="6.0" height="6.0"/><rect x="334.5" y="239.0" width="6.0" height="6.0"/><rect x="335.4" y="238.1" width="6.0" height="6.0"/><rect x="336.3" y="238.0" width="6.0" height="6.0"/><rect x="337.2" y="237.0" width="6.0" height="6.0"/><rect x="338.1" y="238.6" width="6.0" height="6.0"/><rect x="338.9" y="237.6" width="6.0" height="6.0"/><rect x="339.8" y="238.3" width="6.0" height="6.0"/><rect x="340.7" y="239.7" width="6.0" height="6.0"/><rect x="341.6" y="238.5" width="6.0" height="6.0"/><rect x="342.5" y="236.8" width="6.0" height="6.0"/><rect x="343.4" y="239.5" width="6.0" height="6.0"/><rect x="344.2" y="239.0" width="6.0" height="6.0"/><rect x="345.1" y="239.4" width="6.0" height="6.0"/><rect x="346.0" y="238.1" width="6.0" height="6.0"/><rect x="346.9" y="238.0" width="6.0" height="6.0"/><rect x="347.8" y="237.0" width="6.0" height="6.0"/><rect x="348.7" y="237.4" width="6.0" height="6.0"/><rect x="349.6" y="239.4" width="6.0" height="6.0"/><rect x="350.4" y="237.4" width="6.0" height="6.0"/><rect x="351.3" y="237.1" width="6.0" height="6.0"/><rect x="352.2" y="237.1" width="6.0" height="6.0"/><rect x="353.1" y="239.5" width="6.0" height="6.0"/><rect x="354.0" y="238.8" width="6.0" height="6.0"/><rect x="354.9" y="237.7" width="6.0" height="6.0"/><rect x="355.7" y="238.1" width="6.0" height="6.0"/><rect x="356.6" y="238.5" width="6.0" height="6.0"/><rect x="357.5" y="238.9" width="6.0" height="6.0"/><rect x="358.4" y="236.7" width="6.0" height="6.0"/><rect x="359.3" y="239.2" width="6.0" height="6.0"/><rect x="360.2" y="238.1" width="6.0" height="6.0"/><rect x="361.0" y="236.9" width="6.0" height="6.0"/><rect x="361.9" y="237.5" width="6.0" height="6.0"/><rect x="362.8" y="238.8" width="6.0" height="6.0"/><rect x="363.7" y="240.1" width="6.0" height="6.0"/><rect x="364.6" y="237.6" width="6.0" height="6.0"/><rect x="365.5" y="238.1" width="6.0" height="6.0"/><rect x="366.3" y="236.8" width="6.0" height="6.0"/><rect x="367.2" y="238.1" width="6.0" height="6.0"/><rect x="368.1" y="238.3" width="6.0" height="6.0"/><rect x="369.0" y="236.1" width="6.0" height="6.0"/><rect x="369.9" y="237.3" width="6.0" height="6.0"/><rect x="370.8" y="238.6" width="6.0" height="6.0"/><rect x="371.7" y="235.9" width="6.0" height="6.0"/><rect x="372.5" y="237.2" width="6.0" height="6.0"/><rect x="373.4" y="238.0" width="6.0" height="6.0"/><rect x="374.3" y="235.8" width="6.0" height="6.0"/><rect x="375.2" y="236.9" width="6.0" height="6.0"/><rect x="376.1" y="236.8" width="6.0" height="6.0"/><rect x="377.0" y="238.2" width="6.0" height="6.0"/><rect x="377.8" y="235.5" width="6.0" height="6.0"/><rect x="378.7" y="238.0" width="6.0" height="6.0"/><rect x="379.6" y="237.0" width="6.0" height="6.0"/><rect x="380.5" y="237.9" width="6.0" height="6.0"/><rect x="381.4" y="237.8" width="6.0" height="6.0"/><rect x="382.3" y="237.1" width="6.0" height="6.0"/><rect x="383.1" y="237.1" width="6.0" height="6.0"/><rect x="384.0" y="234.7" width="6.0" height="6.0"/><rect x="384.9" y="235.4" width="6.0" height="6.0"/><rect x="385.8" y="236.2" width="6.0" height="6.0"/><rect x="386.7" y="237.0" width="6.0" height="6.0"/><rect x="387.6" y="238.2" width="6.0" height="6.0"/><rect x="388.4" y="235.2" width="6.0" height="6.0"/><rect x="389.3" y="236.6" width="6.0" height="6.0"/><rect x="390.2" y="235.8" width="6.0" height="6.0"/><rect x="391.1" y="235.4" width="6.0" height="6.0"/><rect x="392.0" y="238.7" width="6.0" height="6.0"/><rect x="392.9" y="237.3" width="6.0" height="6.0"/><rect x="393.8" y="238.8" width="6.0" height="6.0"/><rect x="394.6" y="238.2" width="6.0" height="6.0"/><rect x="395.5" y="236.0" width="6.0" height="6.0"/><rect x="396.4" y="235.1" width="6.0" height="6.0"/><rect x="397.3" y="239.1" width="6.0" height="6.0"/><rect x="398.2" y="236.7" width="6.0" height="6.0"/><rect x="399.1" y="235.6" width="6.0" height="6.0"/><rect x="399.9" y="237.3" width="6.0" height="6.0"/><rect x="400.8" y="236.9" width="6.0" height="6.0"/><rect x="401.7" y="235.6" width="6.0" height="6.0"/><rect x="402.6" y="236.4" width="6.0" height="6.0"/><rect x="403.5" y="237.1" width="6.0" height="6.0"/><rect x="404.4" y="237.0" width="6.0" height="6.0"/><rect x="405.2" y="237.5" width="6.0" height="6.0"/><rect x="406.1" y="236.7" width="6.0" height="6.0"/><rect x="407.0" y="236.6" width="6.0" height="6.0"/><rect x="407.9" y="238.1" width="6.0" height="6.0"/><rect x="408.8" y="237.7" width="6.0" height="6.0"/><rect x="409.7" y="238.0" width="6.0" height="6.0"/><rect x="410.5" y="236.9" width="6.0" height="6.0"/><rect x="411.4" y="236.8" width="6.0" height="6.0"/><rect x="412.3" y="235.6" width="6.0" height="6.0"/><rect x="413.2" y="238.3" width="6.0" height="6.0"/><rect x="414.1" y="235.4" width="6.0" height="6.0"/><rect x="415.0" y="237.1" width="6.0" height="6.0"/><rect x="415.9" y="236.2" width="6.0" height="6.0"/><rect x="416.7" y="237.5" width="6.0" height="6.0"/><rect x="417.6" y="237.7" width="6.0" height="6.0"/><rect x="418.5" y="234.9" width="6.0" height="6.0"/><rect x="419.4" y="236.2" width="6.0" height="6.0"/><rect x="420.3" y="234.9" width="6.0" height="6.0"/><rect x="421.2" y="238.4" width="6.0" height="6.0"/><rect x="422.0" y="237.0" width="6.0" height="6.0"/><rect x="422.9" y="235.4" width="6.0" height="6.0"/><rect x="423.8" y="236.3" width="6.0" height="6.0"/><rect x="424.7" y="238.2" width="6.0" height="6.0"/><rect x="425.6" y="238.3" width="6.0" height="6.0"/><rect x="426.5" y="238.2" width="6.0" height="6.0"/><rect x="427.3" y="236.0" width="6.0" height="6.0"/><rect x="428.2" y="236.6" width="6.0" height="6.0"/><rect x="429.1" y="238.3" width="6.0" height="6.0"/><rect x="430.0" y="236.1" width="6.0" height="6.0"/><rect x="430.9" y="236.8" width="6.0" height="6.0"/><rect x="431.8" y="236.6" width="6.0" height="6.0"/><rect x="432.6" y="236.1" width="6.0" height="6.0"/><rect x="433.5" y="238.1" width="6.0" height="6.0"/><rect x="434.4" y="237.4" width="6.0" height="6.0"/><rect x="435.3" y="237.1" width="6.0" height="6.0"/><rect x="436.2" y="237.6" width="6.0" height="6.0"/><rect x="437.1" y="237.8" width="6.0" height="6.0"/><rect x="438.0" y="238.3" width="6.0" height="6.0"/><rect x="438.8" y="236.5" width="6.0" height="6.0"/><rect x="439.7" y="236.2" width="6.0" height="6.0"/><rect x="440.6" y="235.7" width="6.0" height="6.0"/><rect x="441.5" y="238.3" width="6.0" height="6.0"/><rect x="442.4" y="236.4" width="6.0" height="6.0"/><rect x="443.3" y="235.6" width="6.0" height="6.0"/><rect x="444.1" y="236.3" width="6.0" height="6.0"/><rect x="445.0" y="236.5" width="6.0" height="6.0"/><rect x="445.9" y="237.3" width="6.0" height="6.0"/><rect x="446.8" y="237.6" width="6.0" height="6.0"/><rect x="447.7" y="236.3" width="6.0" height="6.0"/><rect x="448.6" y="236.6" width="6.0" height="6.0"/><rect x="449.4" y="236.7" width="6.0" height="6.0"/><rect x="450.3" y="236.1" width="6.0" height="6.0"/><rect x="451.2" y="237.1" width="6.0" height="6.0"/><rect x="452.1" y="238.3" width="6.0" height="6.0"/><rect x="453.0" y="238.0" width="6.0" height="6.0"/><rect x="453.9" y="236.4" width="6.0" height="6.0"/><rect x="454.7" y="236.8" width="6.0" height="6.0"/><rect x="455.6" y="239.3" width="6.0" height="6.0"/><rect x="456.5" y="237.1" width="6.0" height="6.0"/><rect x="457.4" y="238.7" width="6.0" height="6.0"/><rect x="458.3" y="238.9" width="6.0" height="6.0"/><rect x="459.2" y="238.0" width="6.0" height="6.0"/><rect x="460.1" y="237.6" width="6.0" height="6.0"/><rect x="460.9" y="238.8" width="6.0" height="6.0"/><rect x="461.8" y="237.9" width="6.0" height="6.0"/><rect x="462.7" y="238.3" width="6.0" height="6.0"/><rect x="463.6" y="239.6" width="6.0" height="6.0"/><rect x="464.5" y="238.4" width="6.0" height="6.0"/><rect x="465.4" y="238.6" width="6.0" height="6.0"/><rect x="466.2" y="238.8" width="6.0" height="6.0"/><rect x="467.1" y="238.1" width="6.0" height="6.0"/><rect x="468.0" y="238.8" width="6.0" height="6.0"/><rect x="468.9" y="237.9" width="6.0" height="6.0"/><rect x="469.8" y="236.4" width="6.0" height="6.0"/><rect x="470.7" y="237.8" width="6.0" height="6.0"/><rect x="471.5" y="237.9" width="6.0" height="6.0"/><rect x="472.4" y="237.8" width="6.0" height="6.0"/><rect x="473.3" y="236.8" width="6.0" height="6.0"/><rect x="474.2" y="240.0" width="6.0" height="6.0"/><rect x="475.1" y="239.8" width="6.0" height="6.0"/><rect x="476.0" y="239.9" width="6.0" height="6.0"/><rect x="476.8" y="239.9" width="6.0" height="6.0"/><rect x="477.7" y="238.6" width="6.0" height="6.0"/><rect x="478.6" y="239.8" width="6.0" height="6.0"/><rect x="479.5" y="238.5" width="6.0" height="6.0"/><rect x="480.4" y="241.8" width="6.0" height="6.0"/><rect x="481.3" y="239.5" width="6.0" height="6.0"/><rect x="482.2" y="240.4" width="6.0" height="6.0"/><rect x="483.0" y="238.5" width="6.0" height="6.0"/><rect x="483.9" y="239.0" width="6.0" height="6.0"/><rect x="484.8" y="239.2" width="6.0" height="6.0"/><rect x="485.7" y="239.7" width="6.0" height="6.0"/><rect x="486.6" y="239.3" width="6.0" height="6.0"/><rect x="487.5" y="238.8" width="6.0" height="6.0"/><rect x="488.3" y="236.8" width="6.0" height="6.0"/><rect x="489.2" y="239.2" width="6.0" height="6.0"/><rect x="490.1" y="237.8" width="6.0" height="6.0"/><rect x="491.0" y="240.8" width="6.0" height="6.0"/><rect x="491.9" y="240.5" width="6.0" height="6.0"/><rect x="492.8" y="238.7" width="6.0" height="6.0"/><rect x="493.6" y="238.8" width="6.0" height="6.0"/><rect x="494.5" y="236.6" width="6.0" height="6.0"/><rect x="495.4" y="240.7" width="6.0" height="6.0"/><rect x="496.3" y="238.3" width="6.0" height="6.0"/><rect x="497.2" y="238.8" width="6.0" height="6.0"/><rect x="498.1" y="236.2" width="6.0" height="6.0"/><rect x="498.9" y="237.1" width="6.0" height="6.0"/><rect x="499.8" y="236.2" width="6.0" height="6.0"/><rect x="500.7" y="236.9" width="6.0" height="6.0"/><rect x="501.6" y="237.1" width="6.0" height="6.0"/><rect x="502.5" y="237.3" width="6.0" height="6.0"/><rect x="503.4" y="238.3" width="6.0" height="6.0"/><rect x="504.3" y="237.0" width="6.0" height="6.0"/><rect x="505.1" y="237.0" width="6.0" height="6.0"/><rect x="506.0" y="236.4" width="6.0" height="6.0"/><rect x="506.9" y="238.8" width="6.0" height="6.0"/><rect x="507.8" y="236.0" width="6.0" height="6.0"/><rect x="508.7" y="237.9" width="6.0" height="6.0"/><rect x="509.6" y="234.5" width="6.0" height="6.0"/><rect x="510.4" y="235.7" width="6.0" height="6.0"/><rect x="511.3" y="237.0" width="6.0" height="6.0"/><rect x="512.2" y="236.5" width="6.0" height="6.0"/><rect x="513.1" y="239.4" width="6.0" height="6.0"/><rect x="514.0" y="238.6" width="6.0" height="6.0"/><rect x="514.9" y="234.5" width="6.0" height="6.0"/><rect x="515.7" y="235.0" width="6.0" height="6.0"/><rect x="516.6" y="235.6" width="6.0" height="6.0"/><rect x="517.5" y="237.5" width="6.0" height="6.0"/><rect x="518.4" y="236.6" width="6.0" height="6.0"/><rect x="519.3" y="236.1" width="6.0" height="6.0"/><rect x="520.2" y="234.4" width="6.0" height="6.0"/><rect x="521.0" y="235.2" width="6.0" height="6.0"/><rect x="521.9" y="234.2" width="6.0" height="6.0"/><rect x="522.8" y="235.2" width="6.0" height="6.0"/><rect x="523.7" y="237.2" width="6.0" height="6.0"/></g>
<g fill="#ff0000"><circle cx="84.7" cy="407.5" r="3.25"/><circle cx="85.6" cy="388.0" r="3.25"/><circle cx="86.5" cy="372.0" r="3.25"/><circle cx="87.4" cy="357.0" r="3.25"/><circle cx="88.2" cy="342.6" r="3.25"/><circle cx="89.1" cy="329.3" r="3.25"/><circle cx="90.0" cy="316.6" r="3.25"/><circle cx="90.9" cy="301.8" r="3.25"/><circle cx="91.8" cy="287.0" r="3.25"/><circle cx="92.7" cy="276.0" r="3.25"/><circle cx="93.5" cy="263.8" r="3.25"/><circle cx="94.4" cy="248.3" r="3.25"/><circle cx="95.3" cy="241.0" r="3.25"/><circle cx="96.2" cy="227.5" r="3.25"/><circle cx="97.1" cy="215.3" r="3.25"/><circle cx="98.0" cy="207.8" r="3.25"/><circle cx="98.8" cy="197.4" r="3.25"/><circle cx="99.7" cy="188.4" r="3.25"/><circle cx="100.6" cy="178.1" r="3.25"/><circle cx="101.5" cy="168.5" r="3.25"/><circle cx="103.1" cy="163.1" r="3.25"/><circle cx="104.6" cy="153.6" r="3.25"/><circle cx="105.9" cy="146.4" r="3.25"/><circle cx="107.0" cy="138.6" r="3.25"/><circle cx="108.5" cy="131.7" r="3.25"/><circle cx="108.6" cy="130.5" r="3.25"/><circle cx="109.5" cy="130.2" r="3.25"/><circle cx="110.3" cy="128.8" r="3.25"/><circle cx="111.2" cy="126.9" r="3.25"/><circle cx="112.1" cy="125.5" r="3.25"/><circle cx="113.0" cy="124.4" r="3.25"/><circle cx="113.9" cy="122.2" r="3.25"/><circle cx="114.8" cy="120.5" r="3.25"/><circle cx="115.6" cy="118.0" r="3.25"/><circle cx="116.5" cy="117.6" r="3.25"/><circle cx="117.4" cy="116.1" r="3.25"/><circle cx="118.3" cy="115.0" r="3.25"/><circle cx="119.2" cy="112.4" r="3.25"/><circle cx="120.1" cy="113.9" r="3.25"/><circle cx="120.9" cy="112.3" r="3.25"/><circle cx="121.8" cy="111.6" r="3.25"/><circle cx="122.7" cy="113.4" r="3.25"/><circle cx="123.6" cy="111.1" r="3.25"/><circle cx="124.5" cy="109.7" r="3.25"/><circle cx="125.4" cy="110.8" r="3.25"/><circle cx="126.2" cy="108.2" r="3.25"/><circle cx="127.1" cy="111.4" r="3.25"/><circle cx="128.0" cy="109.4" r="3.25"/><circle cx="128.9" cy="108.5" r="3.25"/><circle cx="129.8" cy="110.5" r="3.25"/><circle cx="130.7" cy="106.5" r="3.25"/><circle cx="131.6" cy="109.0" r="3.25"/><circle cx="132.4" cy="106.0" r="3.25"/><circle cx="133.3" cy="107.7" r="3.25"/><circle cx="134.2" cy="106.5" r="3.25"/><circle cx="135.1" cy="109.6" r="3.25"/><circle cx="136.0" cy="109.7" r="3.25"/><circle cx="136.9" cy="106.2" r="3.25"/><circle cx="137.7" cy="108.8" r="3.25"/><circle cx="138.6" cy="107.0" r="3.25"/><circle cx="139.5" cy="107.3" r="3.25"/><circle cx="140.4" cy="104.4" r="3.25"/><circle cx="141.3" cy="102.3" r="3.25"/><circle cx="142.2" cy="101.8" r="3.25"/><circle cx="143.0" cy="104.3" r="3.25"/><circle cx="143.9" cy="107.4" r="3.25"/><circle cx="144.8" cy="103.8" r="3.25"/><circle cx="145.7" cy="102.4" r="3.25"/><circle cx="146.6" cy="106.4" r="3.25"/><circle cx="147.5" cy="104.4" r="3.25"/><circle cx="148.3" cy="104.6" r="3.25"/><circle cx="149.2" cy="104.4" r="3.25"/><circle cx="150.1" cy="103.8" r="3.25"/><circle cx="151.0" cy="103.5" r="3.25"/><circle cx="151.9" cy="101.7" r="3.25"/><circle cx="152.8" cy="104.4" r="3.25"/><circle cx="153.7" cy="102.8" r="3.25"/><circle cx="154.5" cy="104.1" r="3.25"/><circle cx="155.4" cy="101.8" r="3.25"/><circle cx="156.3" cy="99.0" r="3.25"/><circle cx="157.2" cy="102.1" r="3.25"/><circle cx="158.1" cy="104.7" r="3.25"/><circle cx="159.0" cy="101.1" r="3.25"/><circle cx="159.8" cy="100.2" r="3.25"/><circle cx="160.7" cy="99.6" r="3.25"/><circle cx="161.6" cy="99.8" r="3.25"/><circle cx="162.5" cy="101.3" r="3.25"/><circle cx="163.4" cy="99.3" r="3.25"/><circle cx="164.3" cy="102.7" r="3.25"/><circle cx="165.1" cy="100.2" r="3.25"/><circle cx="166.0" cy="100.8" r="3.25"/><circle cx="166.9" cy="102.8" r="3.25"/><circle cx="167.8" cy="103.0" r="3.25"/><circle cx="168.7" cy="100.2" r="3.25"/><circle cx="169.6" cy="101.3" r="3.25"/><circle cx="170.4" cy="101.6" r="3.25"/><circle cx="171.3" cy="100.3" r="3.25"/><circle cx="172.2" cy="97.7" r="3.25"/><circle cx="173.1" cy="101.1" r="3.25"/><circle cx="174.0" cy="101.8" r="3.25"/><circle cx="174.9" cy="101.4" r="3.25"/><circle cx="175.8" cy="98.7" r="3.25"/><circle cx="176.6" cy="99.7" r="3.25"/><circle cx="177.5" cy="99.4" r="3.25"/><circle cx="178.4" cy="100.4" r="3.25"/><circle cx="179.3" cy="102.6" r="3.25"/><circle cx="180.2" cy="103.0" r="3.25"/><circle cx="181.1" cy="101.3" r="3.25"/><circle cx="181.9" cy="102.2" r="3.25"/><circle cx="182.8" cy="102.5" r="3.25"/><circle cx="183.7" cy="101.6" r="3.25"/><circle cx="184.6" cy="101.6" r="3.25"/><circle cx="185.5" cy="100.9" r="3.25"/><circle cx="186.4" cy="101.8" r="3.25"/><circle cx="187.2" cy="105.0" r="3.25"/><circle cx="188.1" cy="103.1" r="3.25"/><circle cx="189.0" cy="101.1" r="3.25"/><circle cx="189.9" cy="101.3" r="3.25"/><circle cx="190.8" cy="100.3" r="3.25"/><circle cx="191.7" cy="101.9" r="3.25"/><circle cx="192.5" cy="102.2" r="3.25"/><circle cx="193.4" cy="99.8" r="3.25"/><circle cx="194.3" cy="102.6" r="3.25"/><circle cx="195.2" cy="100.7" r="3.25"/><circle cx="196.1" cy="103.6" r="3.25"/><circle cx="197.0" cy="101.6" r="3.25"/><circle cx="197.9" cy="104.6" r="3.25"/><circle cx="198.7" cy="101.5" r="3.25"/><circle cx="199.6" cy="102.1" r="3.25"/><circle cx="200.5" cy="102.8" r="3.25"/><circle cx="201.4" cy="103.6" r="3.25"/><circle cx="202.3" cy="103.1" r="3.25"/><circle cx="203.2" cy="100.8" r="3.25"/><circle cx="204.0" cy="102.9" r="3.25"/><circle cx="204.9" cy="102.3" r="3.25"/><circle cx="205.8" cy="101.8" r="3.25"/><circle cx="206.7" cy="101.1" r="3.25"/><circle cx="207.6" cy="104.9" r="3.25"/><circle cx="208.5" cy="101.2" r="3.25"/><circle cx="209.3" cy="100.2" r="3.25"/><circle cx="210.2" cy="102.7" r="3.25"/><circle cx="211.1" cy="102.0" r="3.25"/><circle cx="212.0" cy="102.3" r="3.25"/><circle cx="212.9" cy="103.3" r="3.25"/><circle cx="213.8" cy="102.7" r="3.25"/><circle cx="214.6" cy="102.1" r="3.25"/><circle cx="215.5" cy="102.4" r="3.25"/><circle cx="216.4" cy="100.9" r="3.25"/><circle cx="217.3" cy="100.1" r="3.25"/><circle cx="218.2" cy="100.3" r="3.25"/><circle cx="219.1" cy="100.7" r="3.25"/><circle cx="220.0" cy="102.3" r="3.25"/><circle cx="220.8" cy="100.1" r="3.25"/><circle cx="221.7" cy="99.4" r="3.25"/><circle cx="222.6" cy="102.1" r="3.25"/><circle cx="223.5" cy="100.1" r="3.25"/><circle cx="224.4" cy="98.8" r="3.25"/><circle cx="225.3" cy="102.4" r="3.25"/><circle cx="226.1" cy="100.2" r="3.25"/><circle cx="227.0" cy="102.1" r="3.25"/><circle cx="227.9" cy="100.2" r="3.25"/><circle cx="228.8" cy="99.2" r="3.25"/><circle cx="229.7" cy="99.1" r="3.25"/><circle cx="230.6" cy="100.1" r="3.25"/><circle cx="231.4" cy="100.3" r="3.25"/><circle cx="232.3" cy="99.6" r="3.25"/><circle cx="233.2" cy="100.5" r="3.25"/><circle cx="234.1" cy="97.9" r="3.25"/><circle cx="235.0" cy="100.4" r="3.25"/><circle cx="235.9" cy="97.8" r="3.25"/><circle cx="236.7" cy="99.8" r="3.25"/><circle cx="237.6" cy="101.2" r="3.25"/><circle cx="238.5" cy="101.2" r="3.25"/><circle cx="239.4" cy="102.8" r="3.25"/><circle cx="240.3" cy="97.7" r="3.25"/><circle cx="241.2" cy="101.1" r="3.25"/><circle cx="242.1" cy="102.1" r="3.25"/><circle cx="242.9" cy="101.6" r="3.25"/><circle cx="243.8" cy="98.8" r="3.25"/><circle cx="244.7" cy="100.3" r="3.25"/><circle cx="245.6" cy="102.3" r="3.25"/><circle cx="246.5" cy="96.8" r="3.25"/><circle cx="247.4" cy="99.9" r="3.25"/><circle cx="248.2" cy="101.3" r="3.25"/><circle cx="249.1" cy="98.7" r="3.25"/><circle cx="250.0" cy="100.9" r="3.25"/><circle cx="250.9" cy="97.9" r="3.25"/><circle cx="251.8" cy="98.0" r="3.25"/><circle cx="252.7" cy="97.9" r="3.25"/><circle cx="253.5" cy="99.7" r="3.25"/><circle cx="254.4" cy="99.4" r="3.25"/><circle cx="255.3" cy="101.0" r="3.25"/><circle cx="256.2" cy="98.3" r="3.25"/><circle cx="257.1" cy="99.4" r="3.25"/><circle cx="258.0" cy="101.0" r="3.25"/><circle cx="258.8" cy="100.9" r="3.25"/><circle cx="259.7" cy="97.7" r="3.25"/><circle cx="260.6" cy="100.7" r="3.25"/><circle cx="261.5" cy="99.5" r="3.25"/><circle cx="262.4" cy="100.6" r="3.25"/><circle cx="263.3" cy="100.6" r="3.25"/><circle cx="264.2" cy="101.6" r="3.25"/><circle cx="265.0" cy="100.5" r="3.25"/><circle cx="265.9" cy="96.5" r="3.25"/><circle cx="266.8" cy="96.9" r="3.25"/><circle cx="267.7" cy="99.9" r="3.25"/><circle cx="268.6" cy="99.1" r="3.25"/><circle cx="269.5" cy="101.4" r="3.25"/><circle cx="270.3" cy="99.9" r="3.25"/><circle cx="271.2" cy="97.9" r="3.25"/><circle cx="272.1" cy="100.9" r="3.25"/><circle cx="273.0" cy="98.2" r="3.25"/><circle cx="273.9" cy="96.1" r="3.25"/><circle cx="274.8" cy="101.9" r="3.25"/><circle cx="275.6" cy="95.7" r="3.25"/><circle cx="276.5" cy="99.9" r="3.25"/><circle cx="277.4" cy="100.6" r="3.25"/><circle cx="278.3" cy="99.5" r="3.25"/><circle cx="279.2" cy="96.8" r="3.25"/><circle cx="280.1" cy="100.3" r="3.25"/><circle cx="280.9" cy="96.8" r="3.25"/><circle cx="281.8" cy="96.7" r="3.25"/><circle cx="282.7" cy="98.4" r="3.25"/><circle cx="283.6" cy="100.5" r="3.25"/><circle cx="284.5" cy="99.6" r="3.25"/><circle cx="285.4" cy="100.1" r="3.25"/><circle cx="286.3" cy="98.7" r="3.25"/><circle cx="287.1" cy="99.3" r="3.25"/><circle cx="288.0" cy="97.6" r="3.25"/><circle cx="288.9" cy="97.8" r="3.25"/><circle cx="289.8" cy="99.5" r="3.25"/><circle cx="290.7" cy="98.7" r="3.25"/><circle cx="291.6" cy="100.3" r="3.25"/><circle cx="292.4" cy="98.5" r="3.25"/><circle cx="293.3" cy="98.3" r="3.25"/><circle cx="294.2" cy="99.2" r="3.25"/><circle cx="295.1" cy="99.2" r="3.25"/><circle cx="296.0" cy="100.0" r="3.25"/><circle cx="296.9" cy="99.4" r="3.25"/><circle cx="297.7" cy="101.5" r="3.25"/><circle cx="298.6" cy="98.8" r="3.25"/><circle cx="299.5" cy="98.3" r="3.25"/><circle cx="300.4" cy="97.4" r="3.25"/><circle cx="301.3" cy="98.9" r="3.25"/><circle cx="302.2" cy="99.9" r="3.25"/><circle cx="303.0" cy="98.1" r="3.25"/><circle cx="303.9" cy="99.5" r="3.25"/><circle cx="304.8" cy="100.0" r="3.25"/><circle cx="305.7" cy="99.1" r="3.25"/><circle cx="306.6" cy="98.7" r="3.25"/><circle cx="307.5" cy="100.7" r="3.25"/><circle cx="308.4" cy="99.9" r="3.25"/><circle cx="309.2" cy="100.2" r="3.25"/><circle cx="310.1" cy="101.7" r="3.25"/><circle cx="311.0" cy="101.2" r="3.25"/><circle cx="311.9" cy="98.5" r="3.25"/><circle cx="312.8" cy="98.6" r="3.25"/><circle cx="313.7" cy="100.5" r="3.25"/><circle cx="314.5" cy="99.8" r="3.25"/><circle cx="315.4" cy="97.1" r="3.25"/><circle cx="316.3" cy="101.4" r="3.25"/><circle cx="317.2" cy="98.9" r="3.25"/><circle cx="318.1" cy="99.9" r="3.25"/><circle cx="319.0" cy="97.6" r="3.25"/><circle cx="319.8" cy="100.4" r="3.25"/><circle cx="320.7" cy="97.5" r="3.25"/><circle cx="321.6" cy="97.7" r="3.25"/><circle cx="322.5" cy="96.0" r="3.25"/><circle cx="323.4" cy="98.3" r="3.25"/><circle cx="324.3" cy="97.8" r="3.25"/><circle cx="325.1" cy="97.9" r="3.25"/><circle cx="326.0" cy="99.4" r="3.25"/><circle cx="326.9" cy="98.8" r="3.25"/><circle cx="327.8" cy="99.7" r="3.25"/><circle cx="328.7" cy="97.2" r="3.25"/><circle cx="329.6" cy="95.8" r="3.25"/><circle cx="330.5" cy="97.9" r="3.25"/><circle cx="331.3" cy="98.8" r="3.25"/><circle cx="332.2" cy="100.2" r="3.25"/><circle cx="333.1" cy="99.9" r="3.25"/><circle cx="334.0" cy="95.7" r="3.25"/><circle cx="334.9" cy="98.7" r="3.25"/><circle cx="335.8" cy="100.6" r="3.25"/><circle cx="336.6" cy="98.5" r="3.25"/><circle cx="337.5" cy="97.6" r="3.25"/><circle cx="338.4" cy="98.2" r="3.25"/><circle cx="339.3" cy="97.4" r="3.25"/><circle cx="340.2" cy="98.7" r="3.25"/><circle cx="341.1" cy="97.0" r="3.25"/><circle cx="341.9" cy="99.1" r="3.25"/><circle cx="342.8" cy="98.2" r="3.25"/><circle cx="343.7" cy="97.2" r="3.25"/><circle cx="344.6" cy="98.9" r="3.25"/><circle cx="345.5" cy="98.8" r="3.25"/><circle cx="346.4" cy="97.4" r="3.25"/><circle cx="347.2" cy="97.5" r="3.25"/><circle cx="348.1" cy="94.4" r="3.25"/><circle cx="349.0" cy="98.7" r="3.25"/><circle cx="349.9" cy="96.2" r="3.25"/><circle cx="350.8" cy="94.5" r="3.25"/><circle cx="351.7" cy="94.8" r="3.25"/><circle cx="352.6" cy="96.9" r="3.25"/><circle cx="353.4" cy="98.2" r="3.25"/><circle cx="354.3" cy="97.5" r="3.25"/><circle cx="355.2" cy="97.9" r="3.25"/><circle cx="356.1" cy="95.7" r="3.25"/><circle cx="357.0" cy="95.3" r="3.25"/><circle cx="357.9" cy="98.6" r="3.25"/><circle cx="358.7" cy="97.6" r="3.25"/><circle cx="359.6" cy="97.0" r="3.25"/><circle cx="360.5" cy="99.4" r="3.25"/><circle cx="361.4" cy="95.8" r="3.25"/><circle cx="362.3" cy="96.1" r="3.25"/><circle cx="363.2" cy="97.7" r="3.25"/><circle cx="364.0" cy="99.1" r="3.25"/><circle cx="364.9" cy="96.2" r="3.25"/><circle cx="365.8" cy="98.6" r="3.25"/><circle cx="366.7" cy="95.1" r="3.25"/><circle cx="367.6" cy="95.9" r="3.25"/><circle cx="368.5" cy="95.5" r="3.25"/><circle cx="369.3" cy="93.3" r="3.25"/><circle cx="370.2" cy="95.9" r="3.25"/><circle cx="371.1" cy="96.9" r="3.25"/><circle cx="372.0" cy="95.4" r="3.25"/><circle cx="372.9" cy="95.3" r="3.25"/><circle cx="373.8" cy="97.0" r="3.25"/><circle cx="374.7" cy="93.3" r="3.25"/><circle cx="375.5" cy="92.6" r="3.25"/><circle cx="376.4" cy="93.4" r="3.25"/><circle cx="377.3" cy="92.1" r="3.25"/><circle cx="378.2" cy="96.2" r="3.25"/><circle cx="379.1" cy="94.6" r="3.25"/><circle cx="380.0" cy="92.9" r="3.25"/><circle cx="380.8" cy="93.8" r="3.25"/><circle cx="381.7" cy="99.2" r="3.25"/><circle cx="382.6" cy="94.6" r="3.25"/><circle cx="383.5" cy="94.5" r="3.25"/><circle cx="384.4" cy="96.0" r="3.25"/><circle cx="385.3" cy="96.5" r="3.25"/><circle cx="386.1" cy="95.9" r="3.25"/><circle cx="387.0" cy="94.6" r="3.25"/><circle cx="387.9" cy="94.3" r="3.25"/><circle cx="388.8" cy="96.9" r="3.25"/><circle cx="389.7" cy="96.4" r="3.25"/><circle cx="390.6" cy="94.1" r="3.25"/><circle cx="391.4" cy="98.2" r="3.25"/><circle cx="392.3" cy="97.2" r="3.25"/><circle cx="393.2" cy="96.0" r="3.25"/><circle cx="394.1" cy="96.2" r="3.25"/><circle cx="395.0" cy="97.1" r="3.25"/><circle cx="395.9" cy="95.6" r="3.25"/><circle cx="396.8" cy="94.4" r="3.25"/><circle cx="397.6" cy="97.0" r="3.25"/><circle cx="398.5" cy="94.7" r="3.25"/><circle cx="399.4" cy="97.5" r="3.25"/><circle cx="400.3" cy="94.8" r="3.25"/><circle cx="401.2" cy="96.8" r="3.25"/><circle cx="402.1" cy="97.0" r="3.25"/><circle cx="402.9" cy="100.0" r="3.25"/><circle cx="403.8" cy="95.5" r="3.25"/><circle cx="404.7" cy="95.4" r="3.25"/><circle cx="405.6" cy="96.9" r="3.25"/><circle cx="406.5" cy="96.4" r="3.25"/><circle cx="407.4" cy="97.1" r="3.25"/><circle cx="408.2" cy="98.5" r="3.25"/><circle cx="409.1" cy="98.6" r="3.25"/><circle cx="410.0" cy="100.4" r="3.25"/><circle cx="410.9" cy="96.1" r="3.25"/><circle cx="411.8" cy="101.2" r="3.25"/><circle cx="412.7" cy="100.3" r="3.25"/><circle cx="413.5" cy="97.6" r="3.25"/><circle cx="414.4" cy="94.5" r="3.25"/><circle cx="415.3" cy="97.5" r="3.25"/><circle cx="416.2" cy="97.4" r="3.25"/><circle cx="417.1" cy="93.9" r="3.25"/><circle cx="418.0" cy="97.7" r="3.25"/><circle cx="418.9" cy="97.5" r="3.25"/><circle cx="419.7" cy="96.7" r="3.25"/><circle cx="420.6" cy="98.7" r="3.25"/><circle cx="421.5" cy="99.3" r="3.25"/><circle cx="422.4" cy="97.5" r="3.25"/><circle cx="423.3" cy="98.1" r="3.25"/><circle cx="424.2" cy="96.8" r="3.25"/><circle cx="425.0" cy="97.1" r="3.25"/><circle cx="425.9" cy="98.4" r="3.25"/><circle cx="426.8" cy="98.7" r="3.25"/><circle cx="427.7" cy="97.2" r="3.25"/><circle cx="428.6" cy="94.2" r="3.25"/><circle cx="429.5" cy="98.4" r="3.25"/><circle cx="430.3" cy="95.5" r="3.25"/><circle cx="431.2" cy="98.5" r="3.25"/><circle cx="432.1" cy="100.1" r="3.25"/><circle cx="433.0" cy="97.5" r="3.25"/><circle cx="433.9" cy="96.2" r="3.25"/><circle cx="434.8" cy="95.3" r="3.25"/><circle cx="435.6" cy="99.0" r="3.25"/><circle cx="436.5" cy="97.5" r="3.25"/><circle cx="437.4" cy="97.9" r="3.25"/><circle cx="438.3" cy="98.4" r="3.25"/><circle cx="439.2" cy="96.6" r="3.25"/><circle cx="440.1" cy="95.4" r="3.25"/><circle cx="441.0" cy="94.5" r="3.25"/><circle cx="441.8" cy="91.2" r="3.25"/><circle cx="442.7" cy="93.8" r="3.25"/><circle cx="443.6" cy="96.6" r="3.25"/><circle cx="444.5" cy="96.3" r="3.25"/><circle cx="445.4" cy="96.7" r="3.25"/><circle cx="446.3" cy="95.8" r="3.25"/><circle cx="447.1" cy="96.0" r="3.25"/><circle cx="448.0" cy="97.1" r="3.25"/><circle cx="448.9" cy="93.8" r="3.25"/><circle cx="449.8" cy="94.2" r="3.25"/><circle cx="450.7" cy="91.5" r="3.25"/><circle cx="451.6" cy="95.8" r="3.25"/><circle cx="452.4" cy="94.4" r="3.25"/><circle cx="453.3" cy="94.9" r="3.25"/><circle cx="454.2" cy="96.3" r="3.25"/><circle cx="455.1" cy="95.4" r="3.25"/><circle cx="456.0" cy="93.5" r="3.25"/><circle cx="456.9" cy="94.8" r="3.25"/><circle cx="457.7" cy="91.4" r="3.25"/><circle cx="458.6" cy="94.8" r="3.25"/><circle cx="459.5" cy="94.3" r="3.25"/><circle cx="460.4" cy="91.3" r="3.25"/><circle cx="461.3" cy="95.5" r="3.25"/><circle cx="462.2" cy="92.8" r="3.25"/><circle cx="463.1" cy="94.9" r="3.25"/><circle cx="463.9" cy="93.3" r="3.25"/><circle cx="464.8" cy="95.5" r="3.25"/><circle cx="465.7" cy="96.4" r="3.25"/><circle cx="466.6" cy="92.5" r="3.25"/><circle cx="467.5" cy="91.1" r="3.25"/><circle cx="468.4" cy="92.5" r="3.25"/><circle cx="469.2" cy="94.4" r="3.25"/><circle cx="470.1" cy="92.5" r="3.25"/><circle cx="471.0" cy="91.9" r="3.25"/><circle cx="471.9" cy="93.4" r="3.25"/><circle cx="472.8" cy="88.9" r="3.25"/><circle cx="473.7" cy="92.1" r="3.25"/><circle cx="474.5" cy="90.8" r="3.25"/><circle cx="475.4" cy="93.8" r="3.25"/><circle cx="476.3" cy="91.8" r="3.25"/><circle cx="477.2" cy="90.9" r="3.25"/><circle cx="478.1" cy="93.1" r="3.25"/><circle cx="479.0" cy="91.1" r="3.25"/><circle cx="479.8" cy="93.0" r="3.25"/><circle cx="480.7" cy="91.7" r="3.25"/><circle cx="481.6" cy="92.2" r="3.25"/><circle cx="482.5" cy="92.0" r="3.25"/><circle cx="483.4" cy="94.8" r="3.25"/><circle cx="484.3" cy="93.3" r="3.25"/><circle cx="485.2" cy="94.1" r="3.25"/><circle cx="486.0" cy="93.5" r="3.25"/><circle cx="486.9" cy="91.8" r="3.25"/><circle cx="487.8" cy="94.4" r="3.25"/><circle cx="488.7" cy="94.4" r="3.25"/><circle cx="489.6" cy="94.1" r="3.25"/><circle cx="490.5" cy="93.2" r="3.25"/><circle cx="491.3" cy="92.9" r="3.25"/><circle cx="492.2" cy="94.7" r="3.25"/><circle cx="493.1" cy="96.3" r="3.25"/><circle cx="494.0" cy="91.8" r="3.25"/><circle cx="494.9" cy="94.0" r="3.25"/><circle cx="495.8" cy="92.7" r="3.25"/><circle cx="496.6" cy="94.7" r="3.25"/><circle cx="497.5" cy="94.9" r="3.25"/><circle cx="498.4" cy="96.1" r="3.25"/><circle cx="499.3" cy="89.9" r="3.25"/><circle cx="500.2" cy="92.8" r="3.25"/><circle cx="501.1" cy="91.9" r="3.25"/><circle cx="501.9" cy="92.9" r="3.25"/><circle cx="502.8" cy="92.1" r="3.25"/><circle cx="503.7" cy="92.5" r="3.25"/><circle cx="504.6" cy="94.5" r="3.25"/><circle cx="505.5" cy="96.4" r="3.25"/><circle cx="506.4" cy="89.4" r="3.25"/><circle cx="507.3" cy="93.1" r="3.25"/><circle cx="508.1" cy="93.7" r="3.25"/><circle cx="509.0" cy="93.9" r="3.25"/><circle cx="509.9" cy="93.7" r="3.25"/><circle cx="510.8" cy="91.6" r="3.25"/><circle cx="511.7" cy="91.9" r="3.25"/><circle cx="512.6" cy="94.2" r="3.25"/><circle cx="513.4" cy="94.9" r="3.25"/><circle cx="514.3" cy="93.9" r="3.25"/><circle cx="515.2" cy="92.8" r="3.25"/><circle cx="516.1" cy="94.4" r="3.25"/><circle cx="517.0" cy="94.1" r="3.25"/><circle cx="517.9" cy="95.4" r="3.25"/><circle cx="518.7" cy="94.7" r="3.25"/><circle cx="519.6" cy="93.4" r="3.25"/><circle cx="520.5" cy="94.4" r="3.25"/><circle cx="521.4" cy="91.5" r="3.25"/><circle cx="522.3" cy="94.6" r="3.25"/><circle cx="523.2" cy="95.8" r="3.25"/><circle cx="524.0" cy="91.9" r="3.25"/><circle cx="524.9" cy="94.0" r="3.25"/><circle cx="525.8" cy="92.3" r="3.25"/><circle cx="526.7" cy="95.3" r="3.25"/></g>
</g>
<path d="M84.7 20.8V408.3H526.7M74.7 408.30H84.7M78.7 369.55H84.7M74.7 330.80H84.7M78.7 292.05H84.7M74.7 253.30H84.7M78.7 214.55H84.7M74.7 175.80H84.7M78.7 137.05H84.7M74.7 98.30H84.7M78.7 59.55H84.7M74.7 20.80H84.7M84.70 408.3V423.3M128.90 408.3V413.3M173.10 408.3V423.3M217.30 408.3V413.3M261.50 408.3V423.3M305.70 408.3V413.3M349.90 408.3V423.3M394.10 408.3V413.3M438.30 408.3V423.3M482.50 408.3V413.3M526.70 408.3V423.3" stroke="#000" stroke-width="1.4" fill="none" stroke-linecap="square"/>
<g font-family="Liberation Serif, Times New Roman, serif" font-size="23" fill="#000" stroke="#000" stroke-width="0.2"><text x="70" y="414.6" text-anchor="end">0.6</text><text x="70" y="337.1" text-anchor="end">0.8</text><text x="70" y="259.6" text-anchor="end">1.0</text><text x="70" y="182.1" text-anchor="end">1.2</text><text x="70" y="104.6" text-anchor="end">1.4</text><text x="70" y="27.1" text-anchor="end">1.6</text><text x="84.7" y="445.3" text-anchor="middle">0</text><text x="173.1" y="445.3" text-anchor="middle">100</text><text x="261.5" y="445.3" text-anchor="middle">200</text><text x="349.9" y="445.3" text-anchor="middle">300</text><text x="438.3" y="445.3" text-anchor="middle">400</text><text x="526.7" y="445.3" text-anchor="middle">500</text><text x="305.5" y="477" text-anchor="middle">Times (ps)</text><text transform="translate(28.8 228.6) rotate(-90)" text-anchor="middle" font-size="23">Density (g/cm<tspan dx="0.8" dy="-9.6" font-size="14">3</tspan><tspan dy="9.6">)</tspan></text><text x="347" y="315.2">virgin asphalt</text><text x="347" y="343.7">aged asphalt</text><text x="347" y="372.2">RAM</text></g>
<rect x="312.1" y="304.7" width="6" height="6" fill="#7e7e7e"/>
<rect x="312.3" y="333.5" width="6" height="6" fill="#2c62ad"/>
<circle cx="315.2" cy="365.3" r="3.2" fill="#ff0000"/>
</svg>
</body></html>
